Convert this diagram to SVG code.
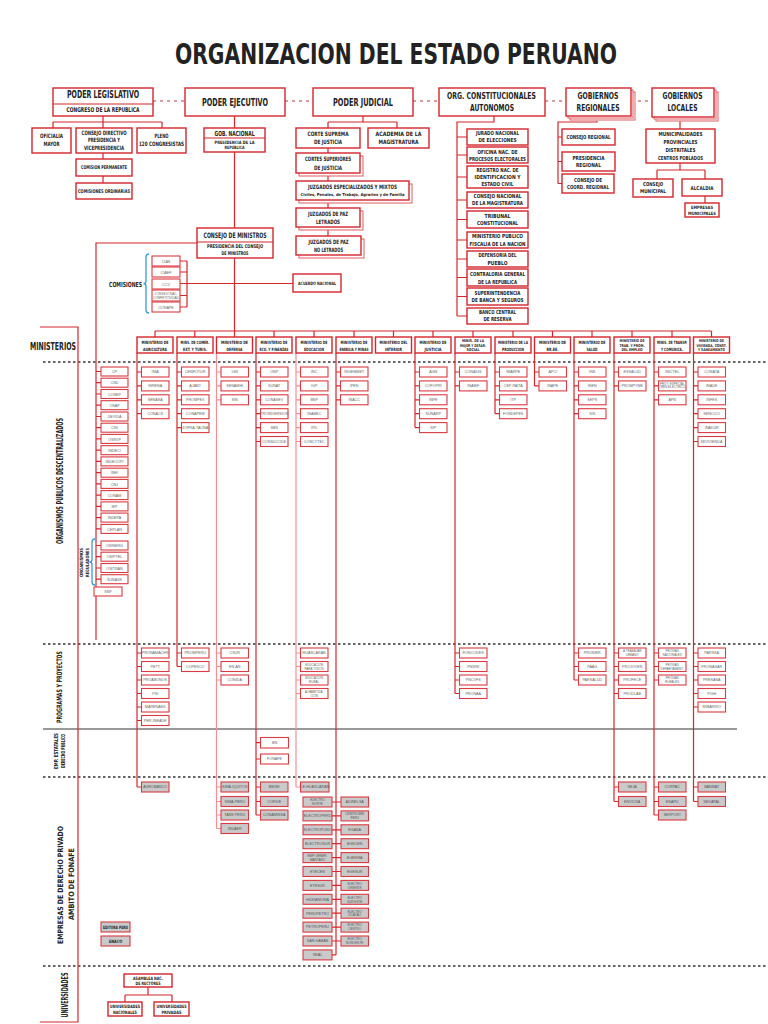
<svg xmlns="http://www.w3.org/2000/svg" width="768" height="1024" viewBox="0 0 768 1024">
<style>
.bx{fill:#fff;stroke:#d3262d;stroke-width:1.4}
.sh{fill:#fff;stroke:#e26a70;stroke-width:1.1}
.ob{fill:#fff;stroke:#da3a41;stroke-width:1.1}
.eb{fill:#c9c9c9;stroke:#da3a41;stroke-width:1.1}
.ln{fill:none;stroke:#d3262d;stroke-width:1.2}
.lt{fill:none;stroke:#f09094;stroke-width:1.2}
.rl{fill:none;stroke:#b8383e;stroke-width:1.2;stroke-dasharray:3 4}
.dl{fill:none;stroke:#333;stroke-width:1.4;stroke-dasharray:2.5 2.5}
.gl{fill:none;stroke:#777;stroke-width:1.3}
.br{fill:none;stroke:#3d9bd8;stroke-width:1.3}
text{font-family:"Liberation Sans Narrow","DejaVu Sans Condensed","DejaVu Sans",sans-serif;font-weight:bold;fill:#222;text-anchor:middle}
.m{font-size:4.4px}
.m3{font-size:3.9px}
.s{font-family:"Liberation Sans","DejaVu Sans",sans-serif;font-weight:normal;fill:#666;font-size:3.7px}
.s2{font-family:"Liberation Sans","DejaVu Sans",sans-serif;font-weight:normal;fill:#666;font-size:3px}
.e{font-family:"Liberation Sans","DejaVu Sans",sans-serif;font-weight:normal;fill:#555;font-size:3.7px}
.e2{font-family:"Liberation Sans","DejaVu Sans",sans-serif;font-weight:normal;fill:#555;font-size:3.1px}
</style>

<text id="title" x="396" y="64" font-size="29" fill="#333" textLength="442" lengthAdjust="spacingAndGlyphs">ORGANIZACION DEL ESTADO PERUANO</text>

<g id="sections">
<path class="dl" d="M43,362H768M43,644H768M43,777H768M43,966H768"/>
<path class="gl" d="M43,729H737"/>
<path class="ln" d="M40,327H78V1022H40"/>
<path class="br" d="M149,254Q146,254 146,257V281Q146,283.5 143.5,283.5Q146,283.5 146,286V310Q146,313 149,313"/>
<path class="br" d="M95,539Q92,539 92,542V559.5Q92,562 89.5,562Q92,562 92,564.5V582Q92,585 95,585"/>
</g>

<g id="labels">
<text x="53" y="350" font-size="10" textLength="46" lengthAdjust="spacingAndGlyphs">MINISTERIOS</text>
<text x="125.5" y="286.7" font-size="7" textLength="33" lengthAdjust="spacingAndGlyphs">COMISIONES</text>
<text transform="rotate(-90 63 481)" x="63" y="481" font-size="8" textLength="126" lengthAdjust="spacingAndGlyphs">ORGANISMOS PUBLICOS DESCENTRALIZADOS</text>
<text transform="rotate(-90 83 562.5)" x="83" y="562.5" font-size="4.5" textLength="29" lengthAdjust="spacingAndGlyphs">ORGANISMOS</text>
<text transform="rotate(-90 88.5 562.5)" x="88.5" y="562.5" font-size="4.5" textLength="29" lengthAdjust="spacingAndGlyphs">REGULADORES</text>
<text transform="rotate(-90 61.5 687)" x="61.5" y="687" font-size="7.5" textLength="72" lengthAdjust="spacingAndGlyphs">PROGRAMAS Y PROYECTOS</text>
<text transform="rotate(-90 58 751)" x="58" y="751" font-size="5.5" textLength="36" lengthAdjust="spacingAndGlyphs">EMP. ESTATALES</text>
<text transform="rotate(-90 65 751)" x="65" y="751" font-size="5.5" textLength="34" lengthAdjust="spacingAndGlyphs">DERECHO PUBLICO</text>
<text transform="rotate(-90 62.5 885)" x="62.5" y="885" font-size="7.5" textLength="118" lengthAdjust="spacingAndGlyphs">EMPRESAS DE DERECHO PRIVADO</text>
<text transform="rotate(-90 74 884)" x="74" y="884" font-size="7.5" textLength="72" lengthAdjust="spacingAndGlyphs">AMBITO DE FONAFE</text>
<text transform="rotate(-90 68 995)" x="68" y="995" font-size="8" textLength="45" lengthAdjust="spacingAndGlyphs">UNIVERSIDADES</text>
</g>

<g id="connectors">
<path class="rl" d="M153,101H185M285,101H313M413,101H439M545,101H566M631,101H652"/>
<path class="ln" d="M103,116V122M53,122H162M53,122V128M103,122V128M162,122V128M103,153V159M103,176V183"/>
<path class="ln" d="M234.5,116V128M234.5,152V228M234.5,258V331"/>
<path class="ln" d="M197,243H96V640"/>
<path class="ln" d="M96,371.5h5M96,382.7h5M96,394h5M96,405.2h5M96,416.5h5M96,427.7h5M96,438.9h5M96,450.2h5M96,461.4h5M96,472.7h5M96,483.9h5M96,495.1h5M96,506.4h5M96,517.6h5M96,528.9h5M96,545.5h5M96,556.7h5M96,568h5M96,579.2h5"/>
<path class="ln" d="M180,261H187M180,272H187M180,295.5H187M180,307H187M187,261V307M180,283.5H293"/>
<path class="ln" d="M155,331H711.5M155,331V337M194.8,331V337M234.5,331V337M274,331V337M314,331V337M354,331V337M393.5,331V337M433,331V337M473,331V337M513,331V337M552.5,331V337M592,331V337M632,331V337M672,331V337M711.5,331V337"/>
<path class="ln" d="M363,116V122M328,122H397M328,122V128M397,122V128M328,148V153M328,173V181M328,200V208M328,227V236"/>
<path class="ln" d="M494,116V122H457V316M457,137H467M457,155H467M457,177H467M457,200H467M457,219.5H467M457,240H467M457,259H467M457,277.5H467M457,296.5H467M457,316H467"/>
<path class="ln" d="M597,121V122H558V183.5M558,137H562M558,161.5H562M558,183.5H562"/>
<path class="ln" d="M680,121V129M680,163V170M657,170H705M657,170V179M705,170V179M705,196V203"/>
<path class="ln" d="M137,353V787M137,372h4.5M137,385.9h4.5M137,399.8h4.5M137,413.7h4.5M137,653h4.5M137,666.5h4.5M137,680h4.5M137,693.5h4.5M137,707h4.5M137,720.5h4.5M137,787h4.5"/>
<path class="ln" d="M177,353V666.5M177,372h4.5M177,385.9h4.5M177,399.8h4.5M177,413.7h4.5M177,427.6h4.5M177,653h4.5M177,666.5h4.5"/>
<path class="lt" d="M216.5,353V828.5M216.5,372h4.5M216.5,385.9h4.5M216.5,399.8h4.5M216.5,653h4.5M216.5,666.5h4.5M216.5,680h4.5M216.5,787h4.5M216.5,801.5h4.5M216.5,815h4.5M216.5,828.5h4.5"/>
<path class="ln" d="M256,353V815M256,372h4.5M256,385.9h4.5M256,399.8h4.5M256,413.7h4.5M256,427.6h4.5M256,441.5h4.5M256,742.7h4.5M256,759h4.5M256,787h4.5M256,801.5h4.5M256,815h4.5"/>
<path class="lt" d="M296,353V787M296,372h4.5M296,385.9h4.5M296,399.8h4.5M296,413.7h4.5M296,427.6h4.5M296,441.5h4.5M296,653h4.5M296,666.5h4.5M296,680h4.5M296,693.5h4.5M296,787h4.5"/>
<path class="ln" d="M336,353V955M336,372h4.5M336,385.9h4.5M336,399.8h4.5M332,802h9M332,815.9h9M332,829.8h9M332,843.7h9M332,857.6h9M332,871.5h9M332,885.4h9M332,899.3h9M332,913.2h9M332,927.1h9M332,941h9M332,954.9h4"/>
<path class="ln" d="M415,353V427.6M415,372h4.5M415,385.9h4.5M415,399.8h4.5M415,413.7h4.5M415,427.6h4.5"/>
<path class="ln" d="M455,353V693.5M455,372h4.5M455,385.9h4.5M455,653h4.5M455,666.5h4.5M455,680h4.5M455,693.5h4.5"/>
<path class="ln" d="M495,353V413.7M495,372h4.5M495,385.9h4.5M495,399.8h4.5M495,413.7h4.5"/>
<path class="ln" d="M534.5,353V385.9M534.5,372h4.5M534.5,385.9h4.5"/>
<path class="ln" d="M574,353V680M574,372h4.5M574,385.9h4.5M574,399.8h4.5M574,413.7h4.5M574,653h4.5M574,666.5h4.5M574,680h4.5"/>
<path class="ln" d="M614,353V801.5M614,372h4.5M614,385.9h4.5M614,653h4.5M614,666.5h4.5M614,680h4.5M614,693.5h4.5M614,787h4.5M614,801.5h4.5"/>
<path class="ln" d="M654,353V815M654,372h4.5M654,385.9h4.5M654,399.8h4.5M654,653h4.5M654,666.5h4.5M654,680h4.5M654,787h4.5M654,801.5h4.5M654,815h4.5"/>
<path class="ln" d="M693.5,353V801.5M693.5,372h4.5M693.5,385.9h4.5M693.5,399.8h4.5M693.5,413.7h4.5M693.5,427.6h4.5M693.5,441.5h4.5M693.5,653h4.5M693.5,666.5h4.5M693.5,680h4.5M693.5,693.5h4.5M693.5,707h4.5M693.5,787h4.5M693.5,801.5h4.5"/>
<path class="ln" d="M148,987V995M125,995H172M125,995V1002M172,995V1002"/>
</g>

<!-- top row -->
<g id="poder-legislativo"><rect class="bx" x="53" y="88" width="100" height="28"/><path class="ln" d="M53,104H153"/><text x="103" y="98.4" font-size="10" textLength="72" lengthAdjust="spacingAndGlyphs">PODER LEGISLATIVO</text><text x="103" y="112.3" font-size="6.5" textLength="73" lengthAdjust="spacingAndGlyphs">CONGRESO DE LA REPUBLICA</text></g>
<g id="poder-ejecutivo"><rect class="bx" x="185" y="88" width="100" height="28"/><text x="235" y="106" font-size="10.5" textLength="66" lengthAdjust="spacingAndGlyphs">PODER EJECUTIVO</text></g>
<g id="poder-judicial"><rect class="bx" x="313" y="88" width="100" height="28"/><text x="363" y="106" font-size="10.5" textLength="60" lengthAdjust="spacingAndGlyphs">PODER JUDICIAL</text></g>
<g id="org-constitucionales"><rect class="bx" x="439" y="88" width="106" height="28"/><text x="491.5" y="99" font-size="9" textLength="89" lengthAdjust="spacingAndGlyphs">ORG. CONSTITUCIONALES</text><text x="492" y="110.7" font-size="9" textLength="44" lengthAdjust="spacingAndGlyphs">AUTONOMOS</text></g>
<g id="gobiernos-regionales"><rect class="sh" x="570" y="92" width="65" height="28"/><rect class="sh" x="568" y="90" width="65" height="28"/><rect class="bx" x="566" y="88" width="65" height="28"/><text x="598" y="99" font-size="9" textLength="41" lengthAdjust="spacingAndGlyphs">GOBIERNOS</text><text x="598" y="111" font-size="9" textLength="43" lengthAdjust="spacingAndGlyphs">REGIONALES</text></g>
<g id="gobiernos-locales"><rect class="sh" x="656" y="92" width="62" height="29"/><rect class="sh" x="654" y="90" width="62" height="29"/><rect class="bx" x="652" y="88" width="62" height="29"/><text x="682.5" y="99" font-size="9" textLength="40" lengthAdjust="spacingAndGlyphs">GOBIERNOS</text><text x="682.5" y="111" font-size="9" textLength="30" lengthAdjust="spacingAndGlyphs">LOCALES</text></g>

<!-- legislativo -->
<g id="oficialia-mayor"><rect class="bx" x="32" y="128" width="39" height="25"/><text x="51.5" y="138" font-size="6" textLength="23" lengthAdjust="spacingAndGlyphs">OFICIALIA</text><text x="51.5" y="145.7" font-size="6" textLength="16" lengthAdjust="spacingAndGlyphs">MAYOR</text></g>
<g id="consejo-directivo"><rect class="bx" x="76" y="128" width="56" height="25"/><text x="104" y="134.5" font-size="6" textLength="45" lengthAdjust="spacingAndGlyphs">CONSEJO DIRECTIVO</text><text x="104" y="142" font-size="6" textLength="32" lengthAdjust="spacingAndGlyphs">PRESIDENCIA Y</text><text x="104" y="149.5" font-size="6" textLength="40" lengthAdjust="spacingAndGlyphs">VICEPRESIDENCIA</text></g>
<g id="pleno"><rect class="bx" x="137" y="128" width="49" height="25"/><text x="161.5" y="138.3" font-size="6" textLength="14" lengthAdjust="spacingAndGlyphs">PLENO</text><text x="161.5" y="145.8" font-size="6" textLength="45" lengthAdjust="spacingAndGlyphs">120 CONGRESISTAS</text></g>
<g id="comision-permanente"><rect class="bx" x="76" y="159" width="56" height="17"/><text x="104" y="169.3" font-size="5.2" textLength="46" lengthAdjust="spacingAndGlyphs">COMISION PERMANENTE</text></g>
<g id="comisiones-ordinarias"><rect class="bx" x="76" y="183" width="56" height="16"/><text x="104" y="193.2" font-size="5" textLength="52" lengthAdjust="spacingAndGlyphs">COMISIONES ORDINARIAS</text></g>

<!-- ejecutivo -->
<g id="gob-nacional"><rect class="bx" x="204" y="128" width="61" height="24"/><path class="ln" d="M204,138H265"/><text x="234.5" y="136" font-size="7" textLength="40" lengthAdjust="spacingAndGlyphs">GOB. NACIONAL</text><text x="234.5" y="143.5" font-size="4.5" textLength="40" lengthAdjust="spacingAndGlyphs">PRESIDENCIA DE LA</text><text x="234.5" y="149.3" font-size="4.5" textLength="20" lengthAdjust="spacingAndGlyphs">REPUBLICA</text></g>
<g id="consejo-ministros"><rect class="bx" x="197" y="228" width="76" height="30"/><path class="ln" d="M197,242H273"/><text x="235" y="237.7" font-size="7.5" textLength="63" lengthAdjust="spacingAndGlyphs">CONSEJO DE MINISTROS</text><text x="235" y="247.8" font-size="5" textLength="56" lengthAdjust="spacingAndGlyphs">PRESIDENCIA DEL CONSEJO</text><text x="235" y="255" font-size="5" textLength="27" lengthAdjust="spacingAndGlyphs">DE MINISTROS</text></g>
<g id="com-cias"><rect class="ob" x="152" y="256" width="28" height="10"/><text class="s" x="166" y="262.5">CIAS</text></g>
<g id="com-ciaef"><rect class="ob" x="152" y="267" width="28" height="10"/><text class="s" x="166" y="273.5">CIAEF</text></g>
<g id="com-ccv"><rect class="ob" x="152" y="279" width="28" height="10"/><text class="s" x="166" y="285.5">CCV</text></g>
<g id="com-cnc"><rect class="ob" x="152" y="290" width="28" height="11"/><text class="s2" x="166" y="294.8">CONSEJO NAC.</text><text class="s2" x="166" y="298.6">COMPETITIVIDAD</text></g>
<g id="com-conape"><rect class="ob" x="152" y="302" width="28" height="10"/><text class="s" x="166" y="308.5">CONAPE</text></g>
<g id="acuerdo-nacional"><rect class="bx" x="293" y="274" width="48" height="18"/><text x="317" y="285" font-size="4.5" textLength="38" lengthAdjust="spacingAndGlyphs">ACUERDO NACIONAL</text></g>

<!-- judicial -->
<g id="corte-suprema"><rect class="bx" x="296" y="128" width="64" height="20"/><text x="328" y="135.7" font-size="6" textLength="41" lengthAdjust="spacingAndGlyphs">CORTE SUPREMA</text><text x="328" y="143.7" font-size="6" textLength="28" lengthAdjust="spacingAndGlyphs">DE JUSTICIA</text></g>
<g id="academia"><rect class="bx" x="368" y="128" width="61" height="20"/><text x="398.5" y="135.7" font-size="6" textLength="46" lengthAdjust="spacingAndGlyphs">ACADEMIA DE LA</text><text x="398.5" y="143.7" font-size="6" textLength="40" lengthAdjust="spacingAndGlyphs">MAGISTRATURA</text></g>
<g id="cortes-superiores"><rect class="sh" x="299" y="156" width="64" height="20"/><rect class="bx" x="296" y="153" width="64" height="20"/><text x="328" y="161" font-size="6" textLength="46" lengthAdjust="spacingAndGlyphs">CORTES SUPERIORES</text><text x="328" y="170" font-size="6" textLength="28" lengthAdjust="spacingAndGlyphs">DE JUSTICIA</text></g>
<g id="juzgados-especializados"><rect class="sh" x="299" y="184" width="113" height="19"/><rect class="bx" x="296" y="181" width="113" height="19"/><text x="352.5" y="189" font-size="6" textLength="89" lengthAdjust="spacingAndGlyphs">JUZGADOS ESPECIALIZADOS Y MIXTOS</text><text x="352.5" y="195.5" font-size="4" textLength="104" lengthAdjust="spacingAndGlyphs">Civiles, Penales, de Trabajo, Agrarios y de Familia</text></g>
<g id="juzgados-paz-letrados"><rect class="sh" x="299" y="211" width="64" height="19"/><rect class="bx" x="296" y="208" width="64" height="19"/><text x="328" y="216" font-size="6" textLength="40" lengthAdjust="spacingAndGlyphs">JUZGADOS DE PAZ</text><text x="328" y="224" font-size="6" textLength="24" lengthAdjust="spacingAndGlyphs">LETRADOS</text></g>
<g id="juzgados-paz-no-letrados"><rect class="sh" x="299" y="239" width="65" height="19"/><rect class="bx" x="296" y="236" width="65" height="19"/><text x="328.5" y="244" font-size="6" textLength="40" lengthAdjust="spacingAndGlyphs">JUZGADOS DE PAZ</text><text x="328.5" y="251.7" font-size="6" textLength="29" lengthAdjust="spacingAndGlyphs">NO LETRADOS</text></g>

<!-- organismos constitucionales -->
<g id="jne"><rect class="bx" x="467" y="129" width="61" height="16"/><text x="497.5" y="135.3" font-size="5.5" textLength="43" lengthAdjust="spacingAndGlyphs">JURADO NACIONAL</text><text x="497.5" y="141.5" font-size="5.5" textLength="38" lengthAdjust="spacingAndGlyphs">DE ELECCIONES</text></g>
<g id="onpe"><rect class="bx" x="467" y="147" width="61" height="16"/><text x="497.5" y="153.5" font-size="5.5" textLength="40" lengthAdjust="spacingAndGlyphs">OFICINA NAC. DE</text><text x="497.5" y="160.5" font-size="5.5" textLength="57" lengthAdjust="spacingAndGlyphs">PROCESOS ELECTORALES</text></g>
<g id="reniec"><rect class="bx" x="467" y="166" width="61" height="22"/><text x="497.5" y="172" font-size="5.5" textLength="42" lengthAdjust="spacingAndGlyphs">REGISTRO NAC. DE</text><text x="497.5" y="179" font-size="5.5" textLength="46" lengthAdjust="spacingAndGlyphs">IDENTIFICACION Y</text><text x="497.5" y="186" font-size="5.5" textLength="32" lengthAdjust="spacingAndGlyphs">ESTADO CIVIL</text></g>
<g id="cnm"><rect class="bx" x="467" y="192" width="61" height="16"/><text x="497.5" y="198" font-size="5.5" textLength="48" lengthAdjust="spacingAndGlyphs">CONSEJO NACIONAL</text><text x="497.5" y="205" font-size="5.5" textLength="51" lengthAdjust="spacingAndGlyphs">DE LA MAGISTRATURA</text></g>
<g id="tc"><rect class="bx" x="467" y="211" width="61" height="17"/><text x="497.5" y="217.7" font-size="5.5" textLength="26" lengthAdjust="spacingAndGlyphs">TRIBUNAL</text><text x="497.5" y="224.5" font-size="5.5" textLength="41" lengthAdjust="spacingAndGlyphs">CONSTITUCIONAL</text></g>
<g id="ministerio-publico"><rect class="bx" x="467" y="232" width="61" height="16"/><text x="497.5" y="238" font-size="5.5" textLength="51" lengthAdjust="spacingAndGlyphs">MINISTERIO PUBLICO</text><text x="497.5" y="245.5" font-size="5.5" textLength="56" lengthAdjust="spacingAndGlyphs">FISCALIA DE LA NACION</text></g>
<g id="defensoria"><rect class="bx" x="467" y="251" width="61" height="16"/><text x="497.5" y="257" font-size="5.5" textLength="38" lengthAdjust="spacingAndGlyphs">DEFENSORIA DEL</text><text x="497.5" y="264.5" font-size="5.5" textLength="20" lengthAdjust="spacingAndGlyphs">PUEBLO</text></g>
<g id="contraloria"><rect class="bx" x="467" y="269" width="61" height="17"/><text x="497.5" y="276" font-size="5.5" textLength="55" lengthAdjust="spacingAndGlyphs">CONTRALORIA GENERAL</text><text x="497.5" y="283.5" font-size="5.5" textLength="39" lengthAdjust="spacingAndGlyphs">DE LA REPUBLICA</text></g>
<g id="sbs"><rect class="bx" x="467" y="288" width="61" height="17"/><text x="497.5" y="294.5" font-size="5.5" textLength="46" lengthAdjust="spacingAndGlyphs">SUPERINTENDENCIA</text><text x="497.5" y="302" font-size="5.5" textLength="52" lengthAdjust="spacingAndGlyphs">DE BANCA Y SEGUROS</text></g>
<g id="bcr"><rect class="bx" x="467" y="308" width="61" height="16"/><text x="497.5" y="314" font-size="5.5" textLength="37" lengthAdjust="spacingAndGlyphs">BANCO CENTRAL</text><text x="497.5" y="321.3" font-size="5.5" textLength="28" lengthAdjust="spacingAndGlyphs">DE RESERVA</text></g>

<!-- gobiernos regionales / locales -->
<g id="consejo-regional"><rect class="bx" x="562" y="129" width="53" height="16"/><text x="588.5" y="139" font-size="5.5" textLength="44" lengthAdjust="spacingAndGlyphs">CONSEJO REGIONAL</text></g>
<g id="presidencia-regional"><rect class="bx" x="562" y="152" width="53" height="19"/><text x="588.5" y="160" font-size="5.5" textLength="32" lengthAdjust="spacingAndGlyphs">PRESIDENCIA</text><text x="588.5" y="167.3" font-size="5.5" textLength="25" lengthAdjust="spacingAndGlyphs">REGIONAL</text></g>
<g id="consejo-coord-regional"><rect class="bx" x="562" y="174" width="52" height="19"/><text x="588" y="181.5" font-size="5.5" textLength="28" lengthAdjust="spacingAndGlyphs">CONSEJO DE</text><text x="588" y="189.3" font-size="5.5" textLength="42" lengthAdjust="spacingAndGlyphs">COORD. REGIONAL</text></g>
<g id="municipalidades"><rect class="bx" x="646" y="129" width="69" height="34"/><text x="680.5" y="135.5" font-size="5.5" textLength="44" lengthAdjust="spacingAndGlyphs">MUNICIPALIDADES</text><text x="680.5" y="143.5" font-size="5.5" textLength="34" lengthAdjust="spacingAndGlyphs">PROVINCIALES</text><text x="680.5" y="151.5" font-size="5.5" textLength="30" lengthAdjust="spacingAndGlyphs">DISTRITALES</text><text x="680.5" y="160" font-size="5.5" textLength="45" lengthAdjust="spacingAndGlyphs">CENTROS POBLADOS</text></g>
<g id="consejo-municipal"><rect class="bx" x="633" y="179" width="40" height="18"/><text x="653" y="185.7" font-size="5.3" textLength="20" lengthAdjust="spacingAndGlyphs">CONSEJO</text><text x="653" y="193" font-size="5.3" textLength="26" lengthAdjust="spacingAndGlyphs">MUNICIPAL</text></g>
<g id="alcaldia"><rect class="bx" x="682" y="179" width="40" height="17"/><text x="702" y="190" font-size="5.3" textLength="23" lengthAdjust="spacingAndGlyphs">ALCALDIA</text></g>
<g id="empresas-municipales"><rect class="bx" x="685" y="203" width="34" height="14"/><text x="702" y="209" font-size="4.5" textLength="22" lengthAdjust="spacingAndGlyphs">EMPRESAS</text><text x="702" y="215" font-size="4.5" textLength="28" lengthAdjust="spacingAndGlyphs">MUNICIPALES</text></g>

<!-- ministerios -->
<g id="min-agricultura"><rect class="bx" x="137" y="337" width="36" height="16"/><text class="m" x="155" y="344" textLength="27" lengthAdjust="spacingAndGlyphs">MINISTERIO DE</text><text class="m" x="155" y="350.5" textLength="24" lengthAdjust="spacingAndGlyphs">AGRICULTURA</text></g>
<g id="min-comercio"><rect class="bx" x="177" y="337" width="36" height="16"/><text class="m" x="195" y="344" textLength="29" lengthAdjust="spacingAndGlyphs">MINS. DE COMER.</text><text class="m" x="195" y="350.5" textLength="24" lengthAdjust="spacingAndGlyphs">EXT. Y TURIS.</text></g>
<g id="min-defensa"><rect class="bx" x="216.5" y="337" width="36" height="16"/><text class="m" x="234.5" y="344" textLength="27" lengthAdjust="spacingAndGlyphs">MINISTERIO DE</text><text class="m" x="234.5" y="350.5" textLength="16" lengthAdjust="spacingAndGlyphs">DEFENSA</text></g>
<g id="min-economia"><rect class="bx" x="256" y="337" width="36" height="16"/><text class="m" x="274" y="344" textLength="27" lengthAdjust="spacingAndGlyphs">MINISTERIO DE</text><text class="m" x="274" y="350.5" textLength="29" lengthAdjust="spacingAndGlyphs">ECO. Y FINANZAS</text></g>
<g id="min-educacion"><rect class="bx" x="296" y="337" width="36" height="16"/><text class="m" x="314" y="344" textLength="27" lengthAdjust="spacingAndGlyphs">MINISTERIO DE</text><text class="m" x="314" y="350.5" textLength="20" lengthAdjust="spacingAndGlyphs">EDUCACION</text></g>
<g id="min-energia"><rect class="bx" x="336" y="337" width="36" height="16"/><text class="m" x="354" y="344" textLength="27" lengthAdjust="spacingAndGlyphs">MINISTERIO DE</text><text class="m" x="354" y="350.5" textLength="29" lengthAdjust="spacingAndGlyphs">ENERGIA Y MINAS</text></g>
<g id="min-interior"><rect class="bx" x="375.5" y="337" width="36" height="16"/><text class="m" x="393.5" y="344" textLength="28" lengthAdjust="spacingAndGlyphs">MINISTERIO DEL</text><text class="m" x="393.5" y="350.5" textLength="17" lengthAdjust="spacingAndGlyphs">INTERIOR</text></g>
<g id="min-justicia"><rect class="bx" x="415" y="337" width="36" height="16"/><text class="m" x="433" y="344" textLength="27" lengthAdjust="spacingAndGlyphs">MINISTERIO DE</text><text class="m" x="433" y="350.5" textLength="17" lengthAdjust="spacingAndGlyphs">JUSTICIA</text></g>
<g id="min-mujer"><rect class="bx" x="455" y="337" width="36" height="16"/><text class="m3" x="473" y="342.3" textLength="22" lengthAdjust="spacingAndGlyphs">MINIS. DE LA</text><text class="m3" x="473" y="346.8" textLength="26" lengthAdjust="spacingAndGlyphs">MUJER Y DESAR.</text><text class="m3" x="473" y="351.3" textLength="13" lengthAdjust="spacingAndGlyphs">SOCIAL</text></g>
<g id="min-produccion"><rect class="bx" x="495" y="337" width="36" height="16"/><text class="m" x="513" y="344" textLength="30" lengthAdjust="spacingAndGlyphs">MINISTERIO DE LA</text><text class="m" x="513" y="350.5" textLength="22" lengthAdjust="spacingAndGlyphs">PRODUCCION</text></g>
<g id="min-rree"><rect class="bx" x="534.5" y="337" width="36" height="16"/><text class="m" x="552.5" y="344" textLength="27" lengthAdjust="spacingAndGlyphs">MINISTERIO DE</text><text class="m" x="552.5" y="350.5" textLength="12" lengthAdjust="spacingAndGlyphs">RR.EE.</text></g>
<g id="min-salud"><rect class="bx" x="574" y="337" width="36" height="16"/><text class="m" x="592" y="344" textLength="27" lengthAdjust="spacingAndGlyphs">MINISTERIO DE</text><text class="m" x="592" y="350.5" textLength="11" lengthAdjust="spacingAndGlyphs">SALUD</text></g>
<g id="min-trabajo"><rect class="bx" x="614" y="337" width="36" height="16"/><text class="m3" x="632" y="342.3" textLength="25" lengthAdjust="spacingAndGlyphs">MINISTERIO DE</text><text class="m3" x="632" y="346.8" textLength="25" lengthAdjust="spacingAndGlyphs">TRAB. Y PROM.</text><text class="m3" x="632" y="351.3" textLength="21" lengthAdjust="spacingAndGlyphs">DEL EMPLEO</text></g>
<g id="min-transportes"><rect class="bx" x="654" y="337" width="36" height="16"/><text class="m" x="672" y="344" textLength="30" lengthAdjust="spacingAndGlyphs">MINIS. DE TRANSP.</text><text class="m" x="672" y="350.5" textLength="22" lengthAdjust="spacingAndGlyphs">Y COMUNICA.</text></g>
<g id="min-vivienda"><rect class="bx" x="693.5" y="337" width="36" height="16"/><text class="m3" x="711.5" y="342.3" textLength="25" lengthAdjust="spacingAndGlyphs">MINISTERIO DE</text><text class="m3" x="711.5" y="346.8" textLength="30" lengthAdjust="spacingAndGlyphs">VIVIENDA, CONST.</text><text class="m3" x="711.5" y="351.3" textLength="27" lengthAdjust="spacingAndGlyphs">Y SANEAMIENTO</text></g>

<!-- PCM organismos -->
<g id="o-cp"><rect class="ob" x="101" y="367" width="27" height="9"/><text class="s" x="114.5" y="373.2">CP</text></g>
<g id="o-cnd"><rect class="ob" x="101" y="378.2" width="27" height="9"/><text class="s" x="114.5" y="384.4">CND</text></g>
<g id="o-cosep"><rect class="ob" x="101" y="389.5" width="27" height="9"/><text class="s" x="114.5" y="395.7">COSEP</text></g>
<g id="o-osap"><rect class="ob" x="101" y="400.7" width="27" height="9"/><text class="s" x="114.5" y="406.9">OSAP</text></g>
<g id="o-devida"><rect class="ob" x="101" y="412" width="27" height="9"/><text class="s" x="114.5" y="418.2">DEVIDA</text></g>
<g id="o-cni"><rect class="ob" x="101" y="423.2" width="27" height="9"/><text class="s" x="114.5" y="429.4">CNI</text></g>
<g id="o-osrvp"><rect class="ob" x="101" y="434.4" width="27" height="9"/><text class="s" x="114.5" y="440.6">OSRVP</text></g>
<g id="o-indeci"><rect class="ob" x="101" y="445.7" width="27" height="9"/><text class="s" x="114.5" y="451.9">INDECI</text></g>
<g id="o-indecopi"><rect class="ob" x="101" y="456.9" width="27" height="9"/><text class="s" x="114.5" y="463.1">INDECOPI</text></g>
<g id="o-inei"><rect class="ob" x="101" y="468.2" width="27" height="9"/><text class="s" x="114.5" y="474.4">INEI</text></g>
<g id="o-cnj"><rect class="ob" x="101" y="479.4" width="27" height="9"/><text class="s" x="114.5" y="485.6">CNJ</text></g>
<g id="o-conam"><rect class="ob" x="101" y="490.6" width="27" height="9"/><text class="s" x="114.5" y="496.8">CONAM</text></g>
<g id="o-iep"><rect class="ob" x="101" y="501.9" width="27" height="9"/><text class="s" x="114.5" y="508.1">IEP</text></g>
<g id="o-indepa"><rect class="ob" x="101" y="513.1" width="27" height="9"/><text class="s" x="114.5" y="519.3">INDEPA</text></g>
<g id="o-ceplan"><rect class="ob" x="101" y="524.4" width="27" height="9"/><text class="s" x="114.5" y="530.6">CEPLAN</text></g>
<g id="o-osinerg"><rect class="ob" x="101" y="541" width="27" height="9"/><text class="s" x="114.5" y="547.2">OSINERG</text></g>
<g id="o-osiptel"><rect class="ob" x="101" y="552.2" width="27" height="9"/><text class="s" x="114.5" y="558.4">OSIPTEL</text></g>
<g id="o-ositran"><rect class="ob" x="101" y="563.5" width="27" height="9"/><text class="s" x="114.5" y="569.7">OSITRAN</text></g>
<g id="o-sunass"><rect class="ob" x="101" y="574.7" width="27" height="9"/><text class="s" x="114.5" y="580.9">SUNASS</text></g>
<g id="o-snp"><rect class="ob" x="94" y="587" width="28" height="9"/><text class="s" x="108" y="593.2">SNP</text></g>

<!-- organismos por ministerio -->
<g id="o-inia"><rect class="ob" x="141.5" y="367" width="27.5" height="10"/><text class="s" x="155.2" y="373.3">INIA</text></g>
<g id="o-inrena"><rect class="ob" x="141.5" y="380.9" width="27.5" height="10"/><text class="s" x="155.2" y="387.2">INRENA</text></g>
<g id="o-senasa"><rect class="ob" x="141.5" y="394.8" width="27.5" height="10"/><text class="s" x="155.2" y="401.1">SENASA</text></g>
<g id="o-conacs"><rect class="ob" x="141.5" y="408.7" width="27.5" height="10"/><text class="s" x="155.2" y="415">CONACS</text></g>

<g id="o-cenfotur"><rect class="ob" x="181.5" y="367" width="27.5" height="10"/><text class="s" x="195.2" y="373.3">CENFOTUR</text></g>
<g id="o-ajant"><rect class="ob" x="181.5" y="380.9" width="27.5" height="10"/><text class="s" x="195.2" y="387.2">AJANT</text></g>
<g id="o-prompex"><rect class="ob" x="181.5" y="394.8" width="27.5" height="10"/><text class="s" x="195.2" y="401.1">PROMPEX</text></g>
<g id="o-conapem"><rect class="ob" x="181.5" y="408.7" width="27.5" height="10"/><text class="s" x="195.2" y="415">CONAPEM</text></g>
<g id="o-zofra"><rect class="ob" x="181.5" y="422.6" width="27.5" height="10"/><text class="s" x="195.2" y="428.9" font-size="3.3">ZOFRA-TACNA</text></g>

<g id="o-ign"><rect class="ob" x="221" y="367" width="27.5" height="10"/><text class="s" x="234.7" y="373.3">IGN</text></g>
<g id="o-senamhi"><rect class="ob" x="221" y="380.9" width="27.5" height="10"/><text class="s" x="234.7" y="387.2">SENAMHI</text></g>
<g id="o-sin"><rect class="ob" x="221" y="394.8" width="27.5" height="10"/><text class="s" x="234.7" y="401.1">SIN</text></g>

<g id="o-onp"><rect class="ob" x="260.5" y="367" width="27.5" height="10"/><text class="s" x="274.2" y="373.3">ONP</text></g>
<g id="o-sunat"><rect class="ob" x="260.5" y="380.9" width="27.5" height="10"/><text class="s" x="274.2" y="387.2">SUNAT</text></g>
<g id="o-conasev"><rect class="ob" x="260.5" y="394.8" width="27.5" height="10"/><text class="s" x="274.2" y="401.1">CONASEV</text></g>
<g id="o-proinversion"><rect class="ob" x="260.5" y="408.7" width="27.5" height="10"/><text class="s" x="274.2" y="415" font-size="3.3">PROINVERSION</text></g>
<g id="o-sbn"><rect class="ob" x="260.5" y="422.6" width="27.5" height="10"/><text class="s" x="274.2" y="428.9">SBN</text></g>
<g id="o-consucode"><rect class="ob" x="260.5" y="436.5" width="27.5" height="10"/><text class="s" x="274.2" y="442.8">CONSUCODE</text></g>

<g id="o-inc"><rect class="ob" x="300.5" y="367" width="27.5" height="10"/><text class="s" x="314.2" y="373.3">INC</text></g>
<g id="o-igp"><rect class="ob" x="300.5" y="380.9" width="27.5" height="10"/><text class="s" x="314.2" y="387.2">IGP</text></g>
<g id="o-bnp"><rect class="ob" x="300.5" y="394.8" width="27.5" height="10"/><text class="s" x="314.2" y="401.1">BNP</text></g>
<g id="o-inabec"><rect class="ob" x="300.5" y="408.7" width="27.5" height="10"/><text class="s" x="314.2" y="415">INABEC</text></g>
<g id="o-ipd"><rect class="ob" x="300.5" y="422.6" width="27.5" height="10"/><text class="s" x="314.2" y="428.9">IPD</text></g>
<g id="o-concytec"><rect class="ob" x="300.5" y="436.5" width="27.5" height="10"/><text class="s" x="314.2" y="442.8">CONCYTEC</text></g>

<g id="o-ingemmet"><rect class="ob" x="340.5" y="367" width="27.5" height="10"/><text class="s" x="354.2" y="373.3">INGEMMET</text></g>
<g id="o-ipen"><rect class="ob" x="340.5" y="380.9" width="27.5" height="10"/><text class="s" x="354.2" y="387.2">IPEN</text></g>
<g id="o-inacc"><rect class="ob" x="340.5" y="394.8" width="27.5" height="10"/><text class="s" x="354.2" y="401.1">INACC</text></g>

<g id="o-agn"><rect class="ob" x="419.5" y="367" width="27.5" height="10"/><text class="s" x="433.2" y="373.3">AGN</text></g>
<g id="o-cofopri"><rect class="ob" x="419.5" y="380.9" width="27.5" height="10"/><text class="s" x="433.2" y="387.2">COFOPRI</text></g>
<g id="o-inpe"><rect class="ob" x="419.5" y="394.8" width="27.5" height="10"/><text class="s" x="433.2" y="401.1">INPE</text></g>
<g id="o-sunarp"><rect class="ob" x="419.5" y="408.7" width="27.5" height="10"/><text class="s" x="433.2" y="415">SUNARP</text></g>
<g id="o-sip"><rect class="ob" x="419.5" y="422.6" width="27.5" height="10"/><text class="s" x="433.2" y="428.9">SIP</text></g>

<g id="o-conadis"><rect class="ob" x="459.5" y="367" width="27.5" height="10"/><text class="s" x="473.2" y="373.3">CONADIS</text></g>
<g id="o-inabif"><rect class="ob" x="459.5" y="380.9" width="27.5" height="10"/><text class="s" x="473.2" y="387.2">INABIF</text></g>

<g id="o-imarpe"><rect class="ob" x="499.5" y="367" width="27.5" height="10"/><text class="s" x="513.2" y="373.3">IMARPE</text></g>
<g id="o-cep-paita"><rect class="ob" x="499.5" y="380.9" width="27.5" height="10"/><text class="s" x="513.2" y="387.2">CEP-PAITA</text></g>
<g id="o-itp"><rect class="ob" x="499.5" y="394.8" width="27.5" height="10"/><text class="s" x="513.2" y="401.1">ITP</text></g>
<g id="o-fondepes"><rect class="ob" x="499.5" y="408.7" width="27.5" height="10"/><text class="s" x="513.2" y="415">FONDEPES</text></g>

<g id="o-apci"><rect class="ob" x="539" y="367" width="27.5" height="10"/><text class="s" x="552.7" y="373.3">APCI</text></g>
<g id="o-inape"><rect class="ob" x="539" y="380.9" width="27.5" height="10"/><text class="s" x="552.7" y="387.2">INAPE</text></g>

<g id="o-ins"><rect class="ob" x="578.5" y="367" width="27.5" height="10"/><text class="s" x="592.2" y="373.3">INS</text></g>
<g id="o-inen"><rect class="ob" x="578.5" y="380.9" width="27.5" height="10"/><text class="s" x="592.2" y="387.2">INEN</text></g>
<g id="o-seps"><rect class="ob" x="578.5" y="394.8" width="27.5" height="10"/><text class="s" x="592.2" y="401.1">SEPS</text></g>
<g id="o-sis"><rect class="ob" x="578.5" y="408.7" width="27.5" height="10"/><text class="s" x="592.2" y="415">SIS</text></g>

<g id="o-essalud"><rect class="ob" x="618.5" y="367" width="27.5" height="10"/><text class="s" x="632.2" y="373.3">ESSALUD</text></g>
<g id="o-prompyme"><rect class="ob" x="618.5" y="380.9" width="27.5" height="10"/><text class="s" x="632.2" y="387.2">PROMPYME</text></g>

<g id="o-inictel"><rect class="ob" x="658.5" y="367" width="27.5" height="10"/><text class="s" x="672.2" y="373.3">INICTEL</text></g>
<g id="o-tren"><rect class="ob" x="658.5" y="380.9" width="27.5" height="10"/><text class="s2" x="672.2" y="385" font-size="2.5">PROY. ESPECIAL</text><text class="s2" x="672.2" y="388.3" font-size="2.5">TREN ELECTRICO</text></g>
<g id="o-apn"><rect class="ob" x="658.5" y="394.8" width="27.5" height="10"/><text class="s" x="672.2" y="401.1">APN</text></g>

<g id="o-conata"><rect class="ob" x="698" y="367" width="27.5" height="10"/><text class="s" x="711.7" y="373.3">CONATA</text></g>
<g id="o-inade"><rect class="ob" x="698" y="380.9" width="27.5" height="10"/><text class="s" x="711.7" y="387.2">INADE</text></g>
<g id="o-infes"><rect class="ob" x="698" y="394.8" width="27.5" height="10"/><text class="s" x="711.7" y="401.1">INFES</text></g>
<g id="o-sencico"><rect class="ob" x="698" y="408.7" width="27.5" height="10"/><text class="s" x="711.7" y="415">SENCICO</text></g>
<g id="o-inadur"><rect class="ob" x="698" y="422.6" width="27.5" height="10"/><text class="s" x="711.7" y="428.9">INADUR</text></g>
<g id="o-mivivienda"><rect class="ob" x="698" y="436.5" width="27.5" height="10"/><text class="s" x="711.7" y="442.8">MIVIVIENDA</text></g>

<!-- programas y proyectos -->
<g id="p-pronamachs"><rect class="ob" x="141.5" y="648" width="27.5" height="10"/><text class="s" x="155.2" y="654.3" font-size="3.3">PRONAMACHS</text></g>
<g id="p-pett"><rect class="ob" x="141.5" y="661.5" width="27.5" height="10"/><text class="s" x="155.2" y="667.8">PETT</text></g>
<g id="p-proabonos"><rect class="ob" x="141.5" y="675" width="27.5" height="10"/><text class="s" x="155.2" y="681.3">PROABONOS</text></g>
<g id="p-psi"><rect class="ob" x="141.5" y="688.5" width="27.5" height="10"/><text class="s" x="155.2" y="694.8">PSI</text></g>
<g id="p-marenass"><rect class="ob" x="141.5" y="702" width="27.5" height="10"/><text class="s" x="155.2" y="708.3">MARENASS</text></g>
<g id="p-per-ineade"><rect class="ob" x="141.5" y="715.5" width="27.5" height="10"/><text class="s" x="155.2" y="721.8" font-size="3.3">PER-INEADE</text></g>

<g id="p-promperu"><rect class="ob" x="181.5" y="648" width="27.5" height="10"/><text class="s" x="195.2" y="654.3">PROMPERU</text></g>
<g id="p-copesco"><rect class="ob" x="181.5" y="661.5" width="27.5" height="10"/><text class="s" x="195.2" y="667.8">COPESCO</text></g>

<g id="p-csur"><rect class="ob" x="221" y="648" width="27.5" height="10"/><text class="s" x="234.7" y="654.3">CSUR</text></g>
<g id="p-en-an"><rect class="ob" x="221" y="661.5" width="27.5" height="10"/><text class="s" x="234.7" y="667.8">EN-AN</text></g>
<g id="p-conida"><rect class="ob" x="221" y="675" width="27.5" height="10"/><text class="s" x="234.7" y="681.3">CONIDA</text></g>

<g id="p-huascaran"><rect class="ob" x="300.5" y="648" width="27.5" height="10"/><text class="s" x="314.2" y="654.3">HUASCARAN</text></g>
<g id="p-edu-todos"><rect class="ob" x="300.5" y="661.5" width="27.5" height="10"/><text class="s2" x="314.2" y="665.8">EDUCACION</text><text class="s2" x="314.2" y="669.7">PARA TODOS</text></g>
<g id="p-edu-rural"><rect class="ob" x="300.5" y="675" width="27.5" height="10"/><text class="s2" x="314.2" y="679.3">EDUCACION</text><text class="s2" x="314.2" y="683.2">RURAL</text></g>
<g id="p-alfabetizacion"><rect class="ob" x="300.5" y="688.5" width="27.5" height="10"/><text class="s2" x="314.2" y="692.8">ALFABETIZA-</text><text class="s2" x="314.2" y="696.7">CION</text></g>

<g id="p-foncodes"><rect class="ob" x="459.5" y="648" width="27.5" height="10"/><text class="s" x="473.2" y="654.3">FONCODES</text></g>
<g id="p-pnww"><rect class="ob" x="459.5" y="661.5" width="27.5" height="10"/><text class="s" x="473.2" y="667.8">PNWW</text></g>
<g id="p-pncvfs"><rect class="ob" x="459.5" y="675" width="27.5" height="10"/><text class="s" x="473.2" y="681.3">PNCVFS</text></g>
<g id="p-pronaa"><rect class="ob" x="459.5" y="688.5" width="27.5" height="10"/><text class="s" x="473.2" y="694.8">PRONAA</text></g>

<g id="p-pronier"><rect class="ob" x="578.5" y="648" width="27.5" height="10"/><text class="s" x="592.2" y="654.3">PRONIER</text></g>
<g id="p-paag"><rect class="ob" x="578.5" y="661.5" width="27.5" height="10"/><text class="s" x="592.2" y="667.8">PAAG</text></g>
<g id="p-parsalud"><rect class="ob" x="578.5" y="675" width="27.5" height="10"/><text class="s" x="592.2" y="681.3">PARSALUD</text></g>

<g id="p-a-trabajar"><rect class="ob" x="618.5" y="648" width="27.5" height="10"/><text class="s2" x="632.2" y="652.3">A TRABAJAR</text><text class="s2" x="632.2" y="656.2">URBANO</text></g>
<g id="p-projoven"><rect class="ob" x="618.5" y="661.5" width="27.5" height="10"/><text class="s" x="632.2" y="667.8">PROJOVEN</text></g>
<g id="p-profece"><rect class="ob" x="618.5" y="675" width="27.5" height="10"/><text class="s" x="632.2" y="681.3">PROFECE</text></g>
<g id="p-prodlab"><rect class="ob" x="618.5" y="688.5" width="27.5" height="10"/><text class="s" x="632.2" y="694.8">PRODLAB</text></g>

<g id="p-provias-nac"><rect class="ob" x="658.5" y="648" width="27.5" height="10"/><text class="s2" x="672.2" y="652.3">PROVIAS</text><text class="s2" x="672.2" y="656.2">NACIONALES</text></g>
<g id="p-provias-dep"><rect class="ob" x="658.5" y="661.5" width="27.5" height="10"/><text class="s2" x="672.2" y="665.8">PROVIAS</text><text class="s2" x="672.2" y="669.7">DEPARTAMENT.</text></g>
<g id="p-provias-rur"><rect class="ob" x="658.5" y="675" width="27.5" height="10"/><text class="s2" x="672.2" y="679.3">PROVIAS</text><text class="s2" x="672.2" y="683.2">RURALES</text></g>

<g id="p-parssa"><rect class="ob" x="698" y="648" width="27.5" height="10"/><text class="s" x="711.7" y="654.3">PARSSA</text></g>
<g id="p-pronasar"><rect class="ob" x="698" y="661.5" width="27.5" height="10"/><text class="s" x="711.7" y="667.8">PRONASAR</text></g>
<g id="p-presana"><rect class="ob" x="698" y="675" width="27.5" height="10"/><text class="s" x="711.7" y="681.3">PRESANA</text></g>
<g id="p-pigh"><rect class="ob" x="698" y="688.5" width="27.5" height="10"/><text class="s" x="711.7" y="694.8">PIGH</text></g>
<g id="p-mibarrio"><rect class="ob" x="698" y="702" width="27.5" height="10"/><text class="s" x="711.7" y="708.3">MIBARRIO</text></g>

<!-- empresas estatales de derecho publico -->
<g id="ee-bn"><rect class="ob" x="260.5" y="737.5" width="28" height="10.5"/><text class="s" x="274.5" y="744">BN</text></g>
<g id="ee-fonafe"><rect class="ob" x="260.5" y="754" width="28" height="10"/><text class="s" x="274.5" y="760.3">FONAFE</text></g>

<!-- empresas de derecho privado -->
<g id="e-agrobanco"><rect class="eb" x="141.5" y="782" width="27.5" height="10"/><text class="e" x="155.2" y="788.3">AGROBANCO</text></g>
<g id="e-sima-iquitos"><rect class="eb" x="221" y="782" width="27.5" height="10"/><text class="e" x="234.7" y="788.3" font-size="3.2">SIMA-IQUITOS</text></g>
<g id="e-sima-peru"><rect class="eb" x="221" y="796.5" width="27.5" height="10"/><text class="e" x="234.7" y="802.8">SIMA-PERU</text></g>
<g id="e-tans"><rect class="eb" x="221" y="810" width="27.5" height="10"/><text class="e" x="234.7" y="816.3">TANS PERU</text></g>
<g id="e-indaer"><rect class="eb" x="221" y="823.5" width="27.5" height="10"/><text class="e" x="234.7" y="829.8">INDAER</text></g>
<g id="e-bmsh"><rect class="eb" x="260.5" y="782" width="27.5" height="10"/><text class="e" x="274.2" y="788.3">BMSH</text></g>
<g id="e-cofide"><rect class="eb" x="260.5" y="796.5" width="27.5" height="10"/><text class="e" x="274.2" y="802.8">COFIDE</text></g>
<g id="e-conaminsa"><rect class="eb" x="260.5" y="810" width="27.5" height="10"/><text class="e" x="274.2" y="816.3">CONAMINSA</text></g>
<g id="e-ce-huascaran"><rect class="eb" x="300.5" y="782" width="28.5" height="10"/><text class="e" x="314.7" y="788.3" font-size="3.2">CE HUASCARAN</text></g>

<g id="e-electronorte"><rect class="eb" x="303" y="797" width="29" height="10"/><text class="e2" x="317.5" y="801.3">ELECTRO</text><text class="e2" x="317.5" y="805.2">NORTE</text></g>
<g id="e-electroperu"><rect class="eb" x="303" y="810.9" width="29" height="10"/><text class="e" x="317.5" y="817.2" font-size="3.3">ELECTROPERU</text></g>
<g id="e-electropuno"><rect class="eb" x="303" y="824.8" width="29" height="10"/><text class="e" x="317.5" y="831.1" font-size="3.3">ELECTROPUNO</text></g>
<g id="e-electrosur"><rect class="eb" x="303" y="838.7" width="29" height="10"/><text class="e" x="317.5" y="845">ELECTROSUR</text></g>
<g id="e-emp-gener"><rect class="eb" x="303" y="852.6" width="29" height="10"/><text class="e2" x="317.5" y="856.9">EMP. GENER.</text><text class="e2" x="317.5" y="860.8">MANTARO</text></g>
<g id="e-etecen"><rect class="eb" x="303" y="866.5" width="29" height="10"/><text class="e" x="317.5" y="872.8">ETECEN</text></g>
<g id="e-etesur"><rect class="eb" x="303" y="880.4" width="29" height="10"/><text class="e" x="317.5" y="886.7">ETESUR</text></g>
<g id="e-hidrandina"><rect class="eb" x="303" y="894.3" width="29" height="10"/><text class="e" x="317.5" y="900.6">HIDRANDINA</text></g>
<g id="e-perupetro"><rect class="eb" x="303" y="908.2" width="29" height="10"/><text class="e" x="317.5" y="914.5">PERUPETRO</text></g>
<g id="e-petroperu"><rect class="eb" x="303" y="922.1" width="29" height="10"/><text class="e" x="317.5" y="928.4">PETROPERU</text></g>
<g id="e-san-gaban"><rect class="eb" x="303" y="936" width="29" height="10"/><text class="e" x="317.5" y="942.3">SAN GABAN</text></g>
<g id="e-seal"><rect class="eb" x="303" y="949.9" width="29" height="10"/><text class="e" x="317.5" y="956.2">SEAL</text></g>

<g id="e-adinelsa"><rect class="eb" x="341" y="797" width="27.5" height="10"/><text class="e" x="354.7" y="803.3">ADINELSA</text></g>
<g id="e-centromin"><rect class="eb" x="341" y="810.9" width="27.5" height="10"/><text class="e2" x="354.7" y="815.2">CENTROMIN</text><text class="e2" x="354.7" y="819.1">PERU</text></g>
<g id="e-egasa"><rect class="eb" x="341" y="824.8" width="27.5" height="10"/><text class="e" x="354.7" y="831.1">EGASA</text></g>
<g id="e-egecen"><rect class="eb" x="341" y="838.7" width="27.5" height="10"/><text class="e" x="354.7" y="845">EGECEN</text></g>
<g id="e-egemsa"><rect class="eb" x="341" y="852.6" width="27.5" height="10"/><text class="e" x="354.7" y="858.9">EGEMSA</text></g>
<g id="e-egesur"><rect class="eb" x="341" y="866.5" width="27.5" height="10"/><text class="e" x="354.7" y="872.8">EGESUR</text></g>
<g id="e-electro-oriente"><rect class="eb" x="341" y="880.4" width="27.5" height="10"/><text class="e2" x="354.7" y="884.7">ELECTRO</text><text class="e2" x="354.7" y="888.6">ORIENTE</text></g>
<g id="e-electro-sur-este"><rect class="eb" x="341" y="894.3" width="27.5" height="10"/><text class="e2" x="354.7" y="898.6">ELECTRO</text><text class="e2" x="354.7" y="902.5">SUR ESTE</text></g>
<g id="e-electro-ucayali"><rect class="eb" x="341" y="908.2" width="27.5" height="10"/><text class="e2" x="354.7" y="912.5">ELECTRO</text><text class="e2" x="354.7" y="916.4">UCAYALI</text></g>
<g id="e-electro-centro"><rect class="eb" x="341" y="922.1" width="27.5" height="10"/><text class="e2" x="354.7" y="926.4">ELECTRO</text><text class="e2" x="354.7" y="930.3">CENTRO</text></g>
<g id="e-electro-noroeste"><rect class="eb" x="341" y="936" width="27.5" height="10"/><text class="e2" x="354.7" y="940.3">ELECTRO</text><text class="e2" x="354.7" y="944.2">NOROESTE</text></g>

<g id="e-seja"><rect class="eb" x="618.5" y="782" width="27.5" height="10"/><text class="e" x="632.2" y="788.3">SEJA</text></g>
<g id="e-envicsa"><rect class="eb" x="618.5" y="796.5" width="27.5" height="10"/><text class="e" x="632.2" y="802.8">ENVICSA</text></g>
<g id="e-corpac"><rect class="eb" x="658.5" y="782" width="27.5" height="10"/><text class="e" x="672.2" y="788.3">CORPAC</text></g>
<g id="e-enapu"><rect class="eb" x="658.5" y="796.5" width="27.5" height="10"/><text class="e" x="672.2" y="802.8">ENAPU</text></g>
<g id="e-serpost"><rect class="eb" x="658.5" y="810" width="27.5" height="10"/><text class="e" x="672.2" y="816.3">SERPOST</text></g>
<g id="e-banmat"><rect class="eb" x="698" y="782" width="27.5" height="10"/><text class="e" x="711.7" y="788.3">BANMAT</text></g>
<g id="e-sedapal"><rect class="eb" x="698" y="796.5" width="27.5" height="10"/><text class="e" x="711.7" y="802.8">SEDAPAL</text></g>

<g id="e-editora-peru"><rect class="eb" x="101" y="922" width="29" height="10"/><text x="115.5" y="928.8" font-size="4.5" textLength="25" lengthAdjust="spacingAndGlyphs">EDITORA PERU</text></g>
<g id="e-enaco"><rect class="eb" x="101" y="936" width="29" height="10"/><text x="115.5" y="942.8" font-size="4.5" textLength="13" lengthAdjust="spacingAndGlyphs">ENACO</text></g>

<!-- universidades -->
<g id="anr"><rect class="bx" x="124" y="974" width="48" height="13"/><text x="148" y="979.7" font-size="4.6" textLength="30" lengthAdjust="spacingAndGlyphs">ASAMBLEA NAC.</text><text x="148" y="985.3" font-size="4.6" textLength="25" lengthAdjust="spacingAndGlyphs">DE RECTORES</text></g>
<g id="univ-nacionales"><rect class="bx" x="108" y="1002" width="34" height="14"/><text x="125" y="1008" font-size="4.6" textLength="30" lengthAdjust="spacingAndGlyphs">UNIVERSIDADES</text><text x="125" y="1014" font-size="4.6" textLength="24" lengthAdjust="spacingAndGlyphs">NACIONALES</text></g>
<g id="univ-privadas"><rect class="bx" x="154" y="1002" width="35" height="14"/><text x="171.5" y="1008" font-size="4.6" textLength="30" lengthAdjust="spacingAndGlyphs">UNIVERSIDADES</text><text x="171.5" y="1014" font-size="4.6" textLength="20" lengthAdjust="spacingAndGlyphs">PRIVADAS</text></g>
</svg>
